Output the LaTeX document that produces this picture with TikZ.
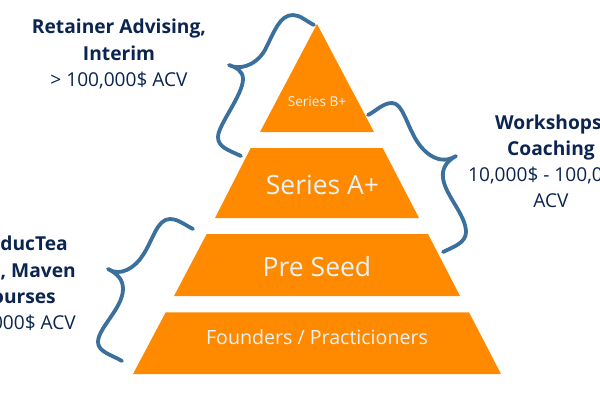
\documentclass[tikz,border=0pt]{standalone}
\usepackage{fontspec}
\setmainfont{Open Sans}
\definecolor{tier}{HTML}{FF8A00}
\definecolor{tiertext}{HTML}{E6F3F7}
\definecolor{navy}{HTML}{0B2550}
\definecolor{bracecol}{HTML}{3B6F9C}
\tikzset{
  tiershape/.style={fill=tier,draw=none},
  tierlabel/.style={text=tiertext,inner sep=0pt,anchor=center},
  brace/.style={draw=bracecol,line width=3.8pt,line cap=round,line join=round},
  note/.style={text=navy,align=center,inner sep=0pt,font=\fontsize{19.2}{26.5}\selectfont},
  headline/.style={text=navy,inner sep=0pt,font=\bfseries\fontsize{19.2}{26.5}\selectfont},
  plainline/.style={text=navy,inner sep=0pt,font=\fontsize{19.1}{26.5}\selectfont}
}
\begin{document}
\begin{tikzpicture}[x=1pt,y=-1pt]
\useasboundingbox (0,0) rectangle (600,400);
\clip (0,0) rectangle (600,400);
\fill[white] (0,0) rectangle (600,400);
\path[tiershape] (317,24) -- (374,132) -- (260,132) -- cycle;
\path[tiershape] (250.7,148) -- (382.7,148) -- (419,218) -- (215,218) -- cycle;
\path[tiershape] (206.7,234) -- (428,234) -- (460,296) -- (174,296) -- cycle;
\path[tiershape] (165.7,312.3) -- (469,312.3) -- (501,374) -- (133,374) -- cycle;
\node[tierlabel,font=\fontsize{13.6}{14}\selectfont] (b) at (317,102) {Series B+};
\node[tierlabel,font=\fontsize{26.5}{28}\selectfont] (a) at (322.5,185) {Series A+};
\node[tierlabel,font=\fontsize{26.5}{28}\selectfont] (p) at (317,267) {Pre Seed};
\node[tierlabel,font=\fontsize{19.6}{20}\selectfont] (f) at (317,337) {Founders / Practicioners};
\path[brace] (241,156) .. controls (228,150) and (218,147) .. (218,137)
  .. controls (218,125) and (243,95) .. (243,79)
  .. controls (243,71) and (236,67) .. (229,65)
  .. controls (238,70) and (255,67) .. (265,50)
  .. controls (275,30) and (280,15) .. (293,15)
  .. controls (300,15) and (306,21) .. (314,25);
\path[brace] (368,115) .. controls (376,111) and (383,103) .. (392,103)
  .. controls (402,103) and (406,122) .. (415,138)
  .. controls (424,154) and (440,166) .. (456,156)
  .. controls (445,162) and (442,170) .. (443,178)
  .. controls (445,195) and (466,215) .. (466,232)
  .. controls (466,243) and (453,247) .. (443,252);
\path[brace] (193,229) .. controls (185,225) and (178,219) .. (170,219)
  .. controls (157,219) and (153,240) .. (143,255)
  .. controls (135,268) and (120,277) .. (108,269)
  .. controls (118,274) and (123,280) .. (123,289)
  .. controls (123,308) and (98,328) .. (98,342)
  .. controls (98,352) and (112,355) .. (122,361);
\node[headline,anchor=base] (n1a) at (119,33) {Retainer Advising,};
\node[headline,anchor=base] (n1b) at (119,60) {Interim};
\node[plainline,anchor=base] (n1c) at (119,86.5) {> 100,000\$ ACV};
\node[headline,anchor=base west] (n2a) at (495,129) {Workshops};
\node[headline,anchor=base] (n2b) at (551,155) {Coaching};
\node[plainline,anchor=base west] (n2c) at (468,181.5) {10,000\$ - 100,0};
\node[plainline,anchor=base] (n2d) at (551,207) {ACV};
\node[headline,anchor=base east] (n3a) at (68,250) {ducTea};
\node[headline,anchor=base east] (n3b) at (76,277) {, Maven};
\node[headline,anchor=base east] (n3c) at (56,303) {ourses};
\node[plainline,anchor=base east] (n3d) at (76,329) {000\$ ACV};
\end{tikzpicture}
\end{document}
